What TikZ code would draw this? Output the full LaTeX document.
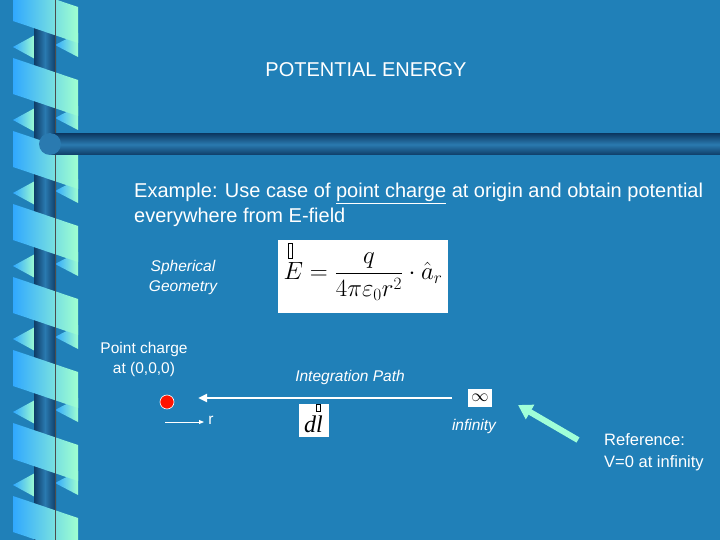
\documentclass[tikz,border=0pt]{standalone}
\usepackage{fontspec}
\setmainfont{Liberation Sans}
\newfontfamily\mathserif{Liberation Serif}
\usetikzlibrary{arrows.meta}
\definecolor{bg}{HTML}{2080B8}
\definecolor{ribA}{HTML}{30A8FF}
\definecolor{ribB}{HTML}{A0FFD0}
\definecolor{barD}{HTML}{0E3C66}
\definecolor{barL}{HTML}{2A7AB0}
\definecolor{mint}{HTML}{A0FFD8}
\tikzset{
 lbl/.style={text=white,font=\fontsize{20}{23}\selectfont,inner sep=0pt},
 small/.style={text=white,font=\fontsize{15.5}{19}\selectfont,align=center,inner sep=0pt},
 wbox/.style={fill=white,inner sep=2pt},
}
\begin{document}
\begin{tikzpicture}[x=1pt,y=-1pt]
\useasboundingbox (0,0) rectangle (720,540);
\fill[bg] (0,0) rectangle (720,540);
% ribbons
\foreach \y in {-15,58,...,560}{
  \shade[left color=ribA,right color=ribB] (13,\y+62) -- (35,\y+50) -- (35,\y+74) -- cycle;
  \shade[left color=ribA,right color=ribB] (55,\y+60) -- (78,\y+48) -- (78,\y+72) -- cycle;
}
\shade[left color=barD,right color=barD,middle color=barL] (34,0) rectangle (56,540);
\foreach \y in {-15,58,...,560}{
  \shade[left color=ribA,right color=ribB] (13,\y) -- (78,\y+22) -- (78,\y+58) -- (13,\y+36) -- cycle;
}
\draw[black!70,line width=0.6pt] (55,0) -- (55,540);
\shade[top color=barD,bottom color=barD,middle color=barL] (50,134) rectangle (720,155);
\fill[barL] (50,144) circle (11);
% title
\node[lbl] (title) at (366,70) {POTENTIAL ENERGY};
\node[lbl,anchor=west,align=left] (ex) at (134,205) {Example: Use case of \underline{point charge} at origin and obtain potential\\[2pt]everywhere from E-field};
\node[small,font=\fontsize{15.5}{20}\selectfont\itshape] (sph) at (183,277) {Spherical\\Geometry};
\node[wbox,minimum width=170pt,minimum height=73pt] (eq) at (363,276.5) {};
\node[inner sep=0pt] at (eq) {\fontsize{25}{28}\selectfont$\displaystyle E=\frac{q}{4\pi\varepsilon_0 r^2}\cdot\hat a_r$};
\draw[line width=0.6pt] (288,243) rectangle (292,258);
\node[small,font=\fontsize{15.5}{20}\selectfont] (pc) at (144,359) {Point charge\\at (0,0,0)};
\node[small,font=\fontsize{15.5}{19}\selectfont\itshape] (ip) at (350,377) {Integration Path};
\node[circle,fill=red!85!orange,draw=white,line width=0.6pt,minimum size=14pt,inner sep=0pt] (q) at (167,402) {};
\coordinate (pend) at (452,398);
\coordinate (pstart) at (198,398);
\draw[white,line width=2.5pt,-{Triangle[length=9pt,width=8pt]}] (pend) -- (pstart);
\coordinate (ra) at (165,422); \coordinate (rb) at (204,422);
\draw[white,line width=1pt,-{Triangle[length=5pt,width=4pt]}] (ra) -- (rb);
\node[small] (r) at (211,420) {r};
\node[wbox,minimum width=30pt,minimum height=33pt] (dl) at (313.5,420.5) {};
\node[inner sep=0pt] at (313.5,424) {\fontsize{24}{26}\selectfont\mathserif\itshape dl};
\draw[line width=0.6pt] (316,404) rectangle (320,411);
\node[wbox,minimum width=24pt,minimum height=18pt,inner sep=0pt] (inf) at (480,398) {\fontsize{16}{16}\selectfont$\infty$};
\node[small,font=\fontsize{15.5}{19}\selectfont\itshape] (infl) at (474,426) {infinity};
\coordinate (ga) at (578,440); \coordinate (gb) at (518,405);
\draw[mint,line width=6pt,-{Triangle[length=14pt,width=16pt]}] (ga) -- (gb);
\node[small,align=left,anchor=west,font=\fontsize{16.5}{22}\selectfont] (ref) at (604,452) {Reference:\\V=0 at infinity};
\end{tikzpicture}
\end{document}
